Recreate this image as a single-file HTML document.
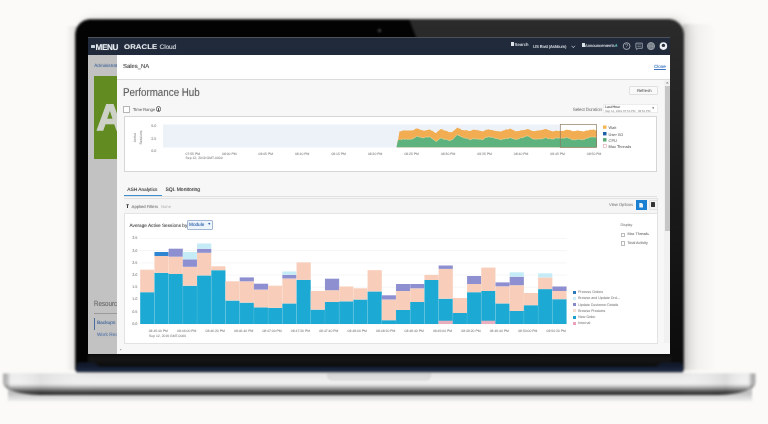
<!DOCTYPE html>
<html><head><meta charset="utf-8"><title>Performance Hub</title>
<style>
*{margin:0;padding:0;box-sizing:border-box}
html,body{width:768px;height:424px;overflow:hidden;background:#fbfaf8;font-family:"Liberation Sans",Arial,sans-serif}
.a{position:absolute}
.t{position:absolute;white-space:nowrap;line-height:1;text-rendering:geometricPrecision;text-shadow:0 0 1px color-mix(in srgb,currentColor 45%,transparent)}
</style></head><body>
<div class="a" style="left:0;top:0;width:768px;height:424px">

<div class="a" style="left:0;top:0;width:768px;height:424px;filter:blur(1px)">
<!-- base -->
<svg class="a" style="left:0;top:0" width="768" height="424"><defs>
<linearGradient id="bv" x1="0" y1="373" x2="0" y2="395" gradientUnits="userSpaceOnUse">
<stop offset="0" stop-color="#d8d8d8"/><stop offset=".05" stop-color="#ececec"/><stop offset=".49" stop-color="#f1f1f1"/><stop offset=".58" stop-color="#d2d2d2"/><stop offset=".7" stop-color="#9a9a9a"/><stop offset=".82" stop-color="#5c5c5c"/><stop offset=".96" stop-color="#262626"/><stop offset="1" stop-color="#303030"/></linearGradient>
<linearGradient id="bh" x1="3" y1="0" x2="756" y2="0" gradientUnits="userSpaceOnUse">
<stop offset="0" stop-color="#000" stop-opacity=".28"/><stop offset=".006" stop-color="#000" stop-opacity=".2"/><stop offset=".012" stop-color="#fff" stop-opacity="0"/><stop offset=".05" stop-color="#000" stop-opacity=".06"/><stop offset=".12" stop-color="#fff" stop-opacity="0"/><stop offset=".9" stop-color="#fff" stop-opacity="0"/><stop offset=".96" stop-color="#000" stop-opacity=".08"/><stop offset=".988" stop-color="#fff" stop-opacity="0"/><stop offset=".994" stop-color="#000" stop-opacity=".25"/><stop offset="1" stop-color="#000" stop-opacity=".3"/></linearGradient>
<linearGradient id="bs" x1="0" y1="394" x2="0" y2="402" gradientUnits="userSpaceOnUse"><stop offset="0" stop-color="#c2c2c2"/><stop offset=".35" stop-color="#d9d9d9"/><stop offset=".75" stop-color="#e6e6e6"/><stop offset="1" stop-color="#f4f4f2" stop-opacity="0"/></linearGradient>
</defs>
<path d="M8,388 C14,392 25,393.5 40,393.5 L718,393.5 C735,393.5 748,392 752,388 L752,402 L8,402 Z" fill="url(#bs)"/>
<path d="M3,373.5 L755.5,373.5 L755.5,382.5 C755.5,388.5 744,394.3 718,394.9 L40,394.9 C14,394.3 3,388.5 3,382.5 Z" fill="url(#bv)"/>
<path d="M3,373.5 L755.5,373.5 L755.5,382.5 C755.5,388.5 744,394.3 718,394.9 L40,394.9 C14,394.3 3,388.5 3,382.5 Z" fill="url(#bh)"/>
</svg>
<!-- notch -->
<div class="a" style="left:327px;top:373px;width:104px;height:7px;border-radius:0 0 6px 6px;background:linear-gradient(#dadada,#e6e6e6);box-shadow:inset 0 -0.6px 0.8px #bcbcbc"></div>

<!-- lid shadow -->
<div class="a" style="left:683px;top:24px;width:34px;height:346px;background:linear-gradient(90deg,rgba(0,0,0,.15),rgba(0,0,0,.07) 20%,rgba(0,0,0,.03) 50%,rgba(0,0,0,0));border-radius:0 10px 0 0"></div>
<div class="a" style="left:66px;top:26px;width:10px;height:344px;background:linear-gradient(270deg,rgba(0,0,0,.1),rgba(0,0,0,0))"></div>
<div class="a" style="left:75px;top:19px;width:609px;height:353px;border-radius:15px 15px 3px 3px;box-shadow:5px 0 12px rgba(0,0,0,.10), 1px -1px 4px rgba(0,0,0,.08)"></div>
<!-- lid -->
<div class="a" style="left:75px;top:19px;width:609px;height:353px;border-radius:15px 15px 3px 3px;background:#030303;border:1px solid #303030"></div>
<!-- glare -->
<svg class="a" style="left:0;top:0" width="768" height="424"><defs><linearGradient id="gl" x1="0" y1="0" x2="0" y2="1"><stop offset="0" stop-color="#fff" stop-opacity=".16"/><stop offset="1" stop-color="#fff" stop-opacity=".03"/></linearGradient><clipPath id="lc"><rect x="76" y="20" width="607" height="351" rx="14"/></clipPath></defs>
<polygon points="409,19 684,19 684,372 546,372" fill="url(#gl)" clip-path="url(#lc)"/></svg>
<!-- hinge band -->
<div class="a" style="left:88px;top:353.5px;width:583px;height:13px;background:linear-gradient(#0c0c0c,#161616 30%,#121212 70%,#070707)"></div>
<svg class="a" style="left:0;top:0" width="768" height="424"><defs><linearGradient id="nv" x1="0" y1="362" x2="0" y2="372.5" gradientUnits="userSpaceOnUse"><stop offset="0" stop-color="#101828"/><stop offset=".45" stop-color="#121b2d"/><stop offset=".7" stop-color="#1c2942"/><stop offset=".88" stop-color="#18243a"/><stop offset="1" stop-color="#0b1019"/></linearGradient></defs>
<path d="M76.5,372.3 L76.5,365 Q76.5,362.3 80,362.3 L90,362.3 Q95,362.3 99,366.6 L656,366.6 Q661,362.3 666,362.3 L679.5,362.3 Q683,362.3 683,365 L683,372.3 Z" fill="url(#nv)"/></svg>
<!-- camera -->
<div class="a" style="left:378px;top:29px;width:3px;height:3px;border-radius:50%;background:#555"></div>

</div>
<!-- ===== SCREEN ===== -->
<div class="a" style="left:88px;top:37px;width:582px;height:317px;background:#f4f4f4;overflow:hidden">
 <!-- header -->
 <div class="a" style="left:0;top:0;width:582px;height:18px;background:#202a3b;border-top:1px solid #4d525a"></div>
 <div class="a" style="left:3.3px;top:7.6px;width:3.6px;height:3.2px;background:#c9d3dd;border-radius:.5px"></div>
 <div class="t" style="left:7.6px;top:6.5px;font-size:8.2px;font-weight:bold;color:#e9edf2;letter-spacing:-.45px">MENU</div>
 <div class="t" style="left:36.4px;top:8.1px;font-size:6.8px;font-weight:bold;color:#e4e7ec;letter-spacing:.1px;transform:scaleX(1.14);transform-origin:0 0">ORACLE</div>
 <div class="t" style="left:71.6px;top:8.3px;font-size:6.6px;color:#d5d9df;letter-spacing:-.15px">Cloud</div>
 <div class="a" style="left:423.3px;top:4.6px;width:3px;height:4px;background:#dfe4ea;border-radius:.3px"></div>
 <div class="t" style="left:426.5px;top:6.2px;font-size:4.4px;color:#e3e7ed">Search</div>
 <div class="t" style="left:445px;top:7.6px;font-size:4.3px;color:#e3e7ed;letter-spacing:-.15px">US East (Ashburn)</div>
 <svg class="a" style="left:483px;top:8px" width="5" height="4" viewBox="0 0 5 4"><path d="M0.6,0.8 L2.3,2.7 L4,0.8" fill="none" stroke="#dfe4ea" stroke-width="0.7"/></svg>
 <div class="a" style="left:494.3px;top:5.6px;width:3px;height:4px;background:#dfe4ea;border-radius:.3px"></div>
 <div class="t" style="left:497px;top:7.2px;font-size:4.1px;color:#e3e7ed">Announcements</div>
 <div class="a" style="left:526.8px;top:6.4px;width:2.8px;height:3.2px;background:#5fb8b0;clip-path:polygon(50% 0,100% 100%,0 100%)"></div>
 <svg class="a" style="left:530px;top:2px" width="52" height="15" viewBox="530 2 52 15">
  <circle cx="538.6" cy="9.1" r="3.4" fill="none" stroke="#a9afb7" stroke-width="0.9"/>
  <path d="M537.6,8.1 a1.05,1.05 0 1 1 1.5,0.9 c-0.4,0.2 -0.5,0.4 -0.5,0.9" fill="none" stroke="#c3c8ce" stroke-width="0.6"/>
  <circle cx="538.6" cy="11" r="0.35" fill="#c3c8ce"/>
  <path d="M547.9,6.1 h6.4 v5.2 h-4.2 l-1.6,1.3 v-1.3 h-0.6 z" fill="none" stroke="#a9afb7" stroke-width="0.8"/>
  <path d="M549.2,7.8 h3.8 M549.2,9.5 h3.8" stroke="#a9afb7" stroke-width="0.5"/>
  <circle cx="563" cy="9.1" r="3.6" fill="#6f7680" stroke="#aeb3ba" stroke-width="0.7"/>
  <ellipse cx="563" cy="9.1" rx="1.4" ry="3.4" fill="none" stroke="#a3a9b0" stroke-width="0.5"/>
  <path d="M559.5,9.1 h7" stroke="#a3a9b0" stroke-width="0.5"/>
  <circle cx="575.4" cy="9.1" r="3.8" fill="#eceef1"/>
  <circle cx="575.4" cy="8.4" r="1.7" fill="#27313f"/>
  <path d="M572.6,11.9 a3,2.6 0 0 1 5.6,0 z" fill="#27313f" opacity=".0"/>
 </svg>
 <!-- left sidebar (background page) -->
 <div class="a" style="left:0;top:18px;width:29px;height:299px;background:#c2c2c2"></div>
 <div class="t" style="left:6.3px;top:26.6px;font-size:4.6px;color:#4a6b9e">Administration</div>
 <div class="a" style="left:6px;top:38.5px;width:23px;height:83.5px;background:#628c22"></div>
 <div class="t" style="left:8.6px;top:62.3px;font-size:37px;font-weight:bold;color:#cdd1c8;-webkit-text-stroke:1.3px #cdd1c8">A</div>
 <div class="t" style="left:6px;top:263.3px;font-size:7.6px;color:#6a6a6a;transform:scaleX(.82);transform-origin:0 0">Resources</div>
 <div class="a" style="left:6px;top:275.5px;width:23px;height:0.6px;background:#9a9a9a"></div>
 <div class="a" style="left:5.8px;top:280.7px;width:0.9px;height:12.2px;background:#4d6e9f"></div>
 <div class="t" style="left:8.9px;top:285.3px;font-size:4.8px;color:#3f649a">Backups</div>
 <div class="t" style="left:8.9px;top:297.2px;font-size:4.8px;color:#5a7aab">Work Requests</div>

 <!-- dialog panel -->
 <div class="a" style="left:29px;top:18px;width:553px;height:299px;background:#f7f7f7"></div>
 <div class="a" style="left:29px;top:18px;width:553px;height:24.6px;background:#fff;border-bottom:1px solid #dcdcdc"></div>
 <div class="t" style="left:35px;top:27.6px;font-size:5.9px;color:#444">Sales_NA</div>
 <div class="t" style="left:566px;top:28px;font-size:4.6px;color:#3a74c0;text-decoration:underline">Close</div>

 <!-- scrollbar -->
 <div class="a" style="left:576px;top:43px;width:6px;height:263px;background:#f1f1f1"></div>
 <div class="a" style="left:577px;top:49px;width:4.5px;height:145px;background:#c6c6c6"></div>
 <div class="a" style="left:577.8px;top:44.5px;width:3px;height:2px;background:#999;clip-path:polygon(50% 0,100% 100%,0 100%)"></div>

 <!-- title -->
 <div class="t" style="left:35px;top:50.5px;font-size:11.4px;color:#626262;transform:scaleX(.86);transform-origin:0 0">Performance Hub</div>
 <div class="a" style="left:541.2px;top:48.5px;width:28.7px;height:9.1px;background:#f9f9f9;border:0.7px solid #e0e0e0;border-radius:1px"></div>
 <div class="t" style="left:548.9px;top:52px;font-size:4.2px;color:#666">Refresh</div>
 <!-- time range -->
 <div class="a" style="left:35px;top:68.8px;width:7px;height:7px;border:0.7px solid #b5b5b5;background:#fff"></div>
 <div class="t" style="left:45px;top:70.6px;font-size:4.3px;color:#777;letter-spacing:-.12px">Time Range</div>
 <div class="a" style="left:67.7px;top:69.2px;width:5.6px;height:5.6px;border:0.7px solid #666;border-radius:50%"></div>
 <div class="a" style="left:70.1px;top:71.9px;width:0.8px;height:2.4px;background:#555"></div>
 <div class="a" style="left:70.1px;top:70.9px;width:0.8px;height:0.6px;background:#555"></div>
 <div class="t" style="left:484.8px;top:70.8px;font-size:4.6px;color:#8a8a8a;letter-spacing:-.15px">Select Duration</div>
 <div class="a" style="left:515px;top:67.3px;width:55px;height:9px;background:#fff;border:0.6px solid #ececec"></div>
 <div class="t" style="left:517px;top:68.6px;font-size:3.5px;color:#555">Last Hour</div>
 <div class="t" style="left:517px;top:72.6px;font-size:2.9px;color:#9a9a9a">Sep 12, 2019 07:52 PM - 08:52 PM</div>
 <div class="t" style="left:564.3px;top:70.4px;font-size:3.6px;color:#777">&#9662;</div>

 <!-- top chart box -->
 <div class="a" style="left:35.5px;top:78.5px;width:533.5px;height:56.3px;background:#fff;border:0.8px solid #d6d6d6"></div>
 <svg class="a" style="left:-88px;top:-37px" width="768" height="424" viewBox="0 0 768 424">
  <rect x="163" y="124.5" width="397" height="23" fill="#edf2f8"/>
  <polygon points="396.8,147.3 399.5,131.3 400.7,131.2 402.0,130.9 403.2,130.2 404.4,130.6 405.7,130.6 406.9,130.4 408.1,130.6 409.4,130.4 410.6,130.5 411.8,130.5 413.1,130.2 414.3,129.8 415.5,128.8 416.8,128.4 418.0,128.7 419.2,129.0 420.5,129.9 421.7,130.0 423.0,130.5 424.2,130.7 425.4,130.4 426.7,130.1 427.9,129.9 429.1,129.4 430.4,129.7 431.6,130.7 432.8,131.1 434.1,132.0 435.3,132.9 436.5,132.8 437.8,131.3 439.0,130.6 440.2,129.4 441.5,129.1 442.7,129.5 443.9,130.4 445.2,130.4 446.4,131.0 447.6,131.2 448.9,132.2 450.1,132.1 451.3,132.2 452.6,131.7 453.8,130.5 455.0,129.7 456.3,128.6 457.5,127.5 458.8,128.5 460.0,128.6 461.2,129.8 462.5,129.9 463.7,130.3 464.9,130.3 466.2,130.2 467.4,130.2 468.6,130.9 469.9,131.0 471.1,130.7 472.3,130.1 473.6,129.8 474.8,129.7 476.0,130.0 477.3,130.3 478.5,130.3 479.7,130.7 481.0,131.0 482.2,131.2 483.4,131.2 484.7,130.4 485.9,129.7 487.1,129.7 488.4,129.2 489.6,129.8 490.8,130.0 492.1,130.1 493.3,130.3 494.5,130.9 495.8,130.8 497.0,131.3 498.2,131.1 499.5,131.5 500.7,131.5 502.0,131.1 503.2,130.4 504.4,130.2 505.7,129.4 506.9,129.6 508.1,129.5 509.4,129.0 510.6,128.6 511.8,129.5 513.1,129.9 514.3,130.5 515.5,131.2 516.8,131.2 518.0,131.0 519.2,130.9 520.5,130.3 521.7,130.4 522.9,130.0 524.2,130.1 525.4,129.7 526.6,129.2 527.9,129.1 529.1,129.4 530.3,130.1 531.6,130.7 532.8,130.9 534.0,131.2 535.3,131.1 536.5,130.7 537.8,130.6 539.0,130.5 540.2,130.2 541.5,129.9 542.7,129.8 543.9,129.5 545.2,128.9 546.4,129.0 547.6,129.8 548.9,130.1 550.1,130.8 551.3,130.8 552.6,131.4 553.8,131.3 555.0,130.9 556.3,130.6 557.5,131.0 558.7,131.0 560.0,130.8 561.2,131.1 562.4,130.8 563.7,131.1 564.9,130.3 566.1,129.8 567.4,129.7 568.6,130.0 569.8,129.9 571.1,130.5 572.3,131.3 573.5,131.0 574.8,131.3 576.0,130.7 577.2,130.5 578.5,130.5 579.7,130.9 581.0,131.1 582.2,131.2 583.4,131.5 584.7,131.3 585.9,130.5 587.1,130.4 588.4,130.4 589.6,129.7 590.8,129.8 592.1,129.9 593.3,129.6 594.5,129.8 595.8,130.4 597.0,130.3 597,147.3" fill="#f2ad52"/><polygon points="396.5,147.3 398.0,140.3 400.7,139.7 402.0,139.6 403.2,138.7 404.4,139.4 405.7,139.2 406.9,139.1 408.1,139.6 409.4,139.1 410.6,139.5 411.8,139.0 413.1,138.5 414.3,137.9 415.5,137.2 416.8,136.2 418.0,136.6 419.2,136.8 420.5,137.4 421.7,137.5 423.0,137.9 424.2,137.7 425.4,137.3 426.7,137.0 427.9,137.2 429.1,136.9 430.4,137.1 431.6,138.4 432.8,139.0 434.1,139.9 435.3,141.0 436.5,141.5 437.8,140.2 439.0,139.5 440.2,138.0 441.5,138.3 442.7,138.6 443.9,139.5 445.2,139.1 446.4,139.7 447.6,139.7 448.9,140.6 450.1,140.4 451.3,139.9 452.6,139.5 453.8,138.2 455.0,136.9 456.3,135.6 457.5,134.4 458.8,135.9 460.0,135.5 461.2,137.0 462.5,137.1 463.7,138.0 464.9,138.0 466.2,138.3 467.4,138.3 468.6,139.0 469.9,139.7 471.1,139.5 472.3,138.8 473.6,138.9 474.8,138.6 476.0,139.1 477.3,139.1 478.5,139.2 479.7,139.2 481.0,139.3 482.2,139.8 483.4,139.3 484.7,138.2 485.9,137.2 487.1,137.4 488.4,136.7 489.6,137.1 490.8,137.3 492.1,137.3 493.3,137.4 494.5,138.2 495.8,138.4 497.0,138.8 498.2,138.7 499.5,139.4 500.7,139.7 502.0,139.5 503.2,138.9 504.4,139.0 505.7,138.4 506.9,138.5 508.1,138.6 509.4,137.9 510.6,137.7 511.8,138.3 513.1,138.7 514.3,138.9 515.5,139.5 516.8,139.3 518.0,139.1 519.2,138.7 520.5,137.6 521.7,137.9 522.9,137.4 524.2,136.9 525.4,136.6 526.6,136.0 527.9,136.1 529.1,136.4 530.3,137.4 531.6,138.3 532.8,138.9 534.0,139.1 535.3,139.2 536.5,139.3 537.8,138.9 539.0,139.0 540.2,138.9 541.5,139.1 542.7,138.6 543.9,138.5 545.2,137.5 546.4,137.8 547.6,138.7 548.9,138.4 550.1,138.7 551.3,138.9 552.6,139.0 553.8,139.1 555.0,138.3 556.3,137.8 557.5,138.1 558.7,138.3 560.0,137.7 561.2,138.3 562.4,137.9 563.7,138.4 564.9,137.7 566.1,137.6 567.4,137.5 568.6,138.3 569.8,138.2 571.1,139.2 572.3,139.7 573.5,139.6 574.8,140.0 576.0,139.6 577.2,139.4 578.5,139.1 579.7,139.5 581.0,139.6 582.2,139.7 583.4,139.6 584.7,139.4 585.9,138.2 587.1,138.3 588.4,137.9 589.6,137.2 590.8,137.1 592.1,137.1 593.3,137.0 594.5,136.9 595.8,137.4 597.0,137.8 597,147.3" fill="#5db27e"/><polyline points="400.7,139.7 402.0,139.6 403.2,138.7 404.4,139.4 405.7,139.2 406.9,139.1 408.1,139.6 409.4,139.1 410.6,139.5 411.8,139.0 413.1,138.5 414.3,137.9 415.5,137.2 416.8,136.2 418.0,136.6 419.2,136.8 420.5,137.4 421.7,137.5 423.0,137.9 424.2,137.7 425.4,137.3 426.7,137.0 427.9,137.2 429.1,136.9 430.4,137.1 431.6,138.4 432.8,139.0 434.1,139.9 435.3,141.0 436.5,141.5 437.8,140.2 439.0,139.5 440.2,138.0 441.5,138.3 442.7,138.6 443.9,139.5 445.2,139.1 446.4,139.7 447.6,139.7 448.9,140.6 450.1,140.4 451.3,139.9 452.6,139.5 453.8,138.2 455.0,136.9 456.3,135.6 457.5,134.4 458.8,135.9 460.0,135.5 461.2,137.0 462.5,137.1 463.7,138.0 464.9,138.0 466.2,138.3 467.4,138.3 468.6,139.0 469.9,139.7 471.1,139.5 472.3,138.8 473.6,138.9 474.8,138.6 476.0,139.1 477.3,139.1 478.5,139.2 479.7,139.2 481.0,139.3 482.2,139.8 483.4,139.3 484.7,138.2 485.9,137.2 487.1,137.4 488.4,136.7 489.6,137.1 490.8,137.3 492.1,137.3 493.3,137.4 494.5,138.2 495.8,138.4 497.0,138.8 498.2,138.7 499.5,139.4 500.7,139.7 502.0,139.5 503.2,138.9 504.4,139.0 505.7,138.4 506.9,138.5 508.1,138.6 509.4,137.9 510.6,137.7 511.8,138.3 513.1,138.7 514.3,138.9 515.5,139.5 516.8,139.3 518.0,139.1 519.2,138.7 520.5,137.6 521.7,137.9 522.9,137.4 524.2,136.9 525.4,136.6 526.6,136.0 527.9,136.1 529.1,136.4 530.3,137.4 531.6,138.3 532.8,138.9 534.0,139.1 535.3,139.2 536.5,139.3 537.8,138.9 539.0,139.0 540.2,138.9 541.5,139.1 542.7,138.6 543.9,138.5 545.2,137.5 546.4,137.8 547.6,138.7 548.9,138.4 550.1,138.7 551.3,138.9 552.6,139.0 553.8,139.1 555.0,138.3 556.3,137.8 557.5,138.1 558.7,138.3 560.0,137.7 561.2,138.3 562.4,137.9 563.7,138.4 564.9,137.7 566.1,137.6 567.4,137.5 568.6,138.3 569.8,138.2 571.1,139.2 572.3,139.7 573.5,139.6 574.8,140.0 576.0,139.6 577.2,139.4 578.5,139.1 579.7,139.5 581.0,139.6 582.2,139.7 583.4,139.6 584.7,139.4 585.9,138.2 587.1,138.3 588.4,137.9 589.6,137.2 590.8,137.1 592.1,137.1 593.3,137.0 594.5,136.9 595.8,137.4 597.0,137.8" fill="none" stroke="#f3e2b0" stroke-width="0.6" stroke-opacity=".85"/>
  <rect x="560.3" y="124.6" width="36.2" height="22.9" fill="none" stroke="#8c7b63" stroke-width="0.7"/>
  <rect x="603" y="125.5" width="3.5" height="3.3" fill="#f3b653"/>
  <rect x="603" y="132" width="3.5" height="3.4" fill="#1f5fa8"/>
  <rect x="603" y="138.1" width="3.5" height="3.4" fill="#5aa874"/>
  <rect x="603.3" y="144.3" width="3" height="3.3" fill="#fff" stroke="#d9a0a8" stroke-width="0.55"/>
 </svg>
 <div class="t" style="left:520.6px;top:89.3px;font-size:3.9px;color:#707070">Wait</div>
 <div class="t" style="left:520.6px;top:95.7px;font-size:3.9px;color:#707070">User I/O</div>
 <div class="t" style="left:520.6px;top:101.9px;font-size:3.9px;color:#707070">CPU</div>
 <div class="t" style="left:520.6px;top:108.2px;font-size:3.9px;color:#707070">Max Threads</div>
 <div class="t" style="left:63.2px;top:87.5px;font-size:3.7px;color:#888">5.0</div>
 <div class="t" style="left:63.2px;top:100.5px;font-size:3.7px;color:#888">2.5</div>
 <div class="t" style="left:63.2px;top:113.3px;font-size:3.7px;color:#888">0.0</div>
 <div class="t" style="left:39.7px;top:94.7px;width:20px;height:11px;text-align:center;font-size:3.5px;line-height:5.5px;color:#888;transform:rotate(-90deg);transform-origin:50% 50%">Active<br>Sessions</div>
 <div class="t" style="left:97.5px;top:116.0px;font-size:3.4px;color:#888">07:55 PM</div>
 <div class="t" style="left:134.0px;top:116.0px;font-size:3.4px;color:#888">08:00 PM</div>
 <div class="t" style="left:170.5px;top:116.0px;font-size:3.4px;color:#888">08:05 PM</div>
 <div class="t" style="left:206.9px;top:116.0px;font-size:3.4px;color:#888">08:10 PM</div>
 <div class="t" style="left:243.4px;top:116.0px;font-size:3.4px;color:#888">08:15 PM</div>
 <div class="t" style="left:279.9px;top:116.0px;font-size:3.4px;color:#888">08:20 PM</div>
 <div class="t" style="left:316.4px;top:116.0px;font-size:3.4px;color:#888">08:25 PM</div>
 <div class="t" style="left:352.9px;top:116.0px;font-size:3.4px;color:#888">08:30 PM</div>
 <div class="t" style="left:389.3px;top:116.0px;font-size:3.4px;color:#888">08:35 PM</div>
 <div class="t" style="left:425.8px;top:116.0px;font-size:3.4px;color:#888">08:40 PM</div>
 <div class="t" style="left:462.3px;top:116.0px;font-size:3.4px;color:#888">08:45 PM</div>
 <div class="t" style="left:498.8px;top:116.0px;font-size:3.4px;color:#888">08:50 PM</div>
 <div class="t" style="left:97.5px;top:120.4px;font-size:3.4px;color:#888">Sep 12, 2019 GMT-0000</div>

 <!-- tabs -->
 <div class="t" style="left:39.3px;top:151.6px;font-size:4.8px;color:#333">ASH Analytics</div>
 <div class="t" style="left:77.5px;top:151.3px;font-size:5.0px;color:#333">SQL Monitoring</div>
 <div class="a" style="left:35.5px;top:158.8px;width:533px;height:0.6px;background:#e0e0e0"></div>
 <div class="a" style="left:35.5px;top:157.6px;width:38px;height:1.3px;background:#3d8fd1"></div>

 <!-- lower panel -->
 <div class="a" style="left:35.5px;top:161px;width:534px;height:145.5px;background:#fff;border:0.8px solid #e2e2e2"></div>
 <div class="a" style="left:36.3px;top:161.8px;width:532.4px;height:15.5px;background:#f5f5f5;border-bottom:0.6px solid #e4e4e4"></div>
 <div class="a" style="left:38.2px;top:167.3px;width:2.8px;height:2px;background:#333;clip-path:polygon(0 0,100% 0,50% 100%)"></div>
 <div class="a" style="left:39.2px;top:168.8px;width:0.8px;height:2.4px;background:#333"></div>
 <div class="t" style="left:43.6px;top:168px;font-size:4.2px;color:#7a7a7a">Applied Filters</div>
 <div class="t" style="left:73px;top:168px;font-size:4.2px;color:#bdbdbd">None</div>
 <div class="t" style="left:521px;top:166.3px;font-size:4.1px;color:#888">View Options</div>
 <div class="a" style="left:548px;top:162.7px;width:11px;height:10.6px;background:#1b7fd2"></div>
 <div class="a" style="left:551.3px;top:165.6px;width:4px;height:5px;background:#e8f3fc;clip-path:polygon(0 0,55% 0,100% 45%,100% 100%,0 100%)"></div>
 <div class="a" style="left:560.5px;top:162.7px;width:9.6px;height:10.6px;background:#f3f3f3;border:0.6px solid #e2e2e2;border-radius:1px"></div>
 <div class="a" style="left:562.5px;top:165.2px;width:4.2px;height:4.8px;background:#333;border-radius:.6px"></div>

 <div class="t" style="left:41.5px;top:186.8px;font-size:4.7px;color:#444">Average Active Sessions by</div>
 <div class="a" style="left:99px;top:182.6px;width:25.7px;height:10.6px;background:#eef4fc;border:0.8px solid #a3b6d3;border-radius:1px"></div>
 <div class="t" style="left:101px;top:185.8px;font-size:4.7px;color:#2d62a8">Module</div>
 <div class="t" style="left:119.5px;top:186.4px;font-size:3.5px;color:#2d62a8">&#9660;</div>
 <div class="t" style="left:532.5px;top:187px;font-size:3.6px;color:#888">Display</div>
 <div class="a" style="left:532.5px;top:195.5px;width:4.5px;height:4.5px;border:0.6px solid #bbb"></div>
 <div class="a" style="left:532.5px;top:204px;width:4.5px;height:4.5px;border:0.6px solid #bbb"></div>
 <div class="t" style="left:539.5px;top:196px;font-size:3.7px;color:#777">Max Threads</div>
 <div class="t" style="left:539.5px;top:204.5px;font-size:3.7px;color:#777">Total Activity</div>

 <svg class="a" style="left:-88px;top:-37px" width="768" height="424" viewBox="0 0 768 424">
 <line x1="140" y1="324.0" x2="567" y2="324.0" stroke="#ececec" stroke-width="0.5"/>
<line x1="140" y1="311.8" x2="567" y2="311.8" stroke="#ececec" stroke-width="0.5"/>
<line x1="140" y1="299.5" x2="567" y2="299.5" stroke="#ececec" stroke-width="0.5"/>
<line x1="140" y1="287.3" x2="567" y2="287.3" stroke="#ececec" stroke-width="0.5"/>
<line x1="140" y1="275.1" x2="567" y2="275.1" stroke="#ececec" stroke-width="0.5"/>
<line x1="140" y1="262.9" x2="567" y2="262.9" stroke="#ececec" stroke-width="0.5"/>
<line x1="140" y1="250.6" x2="567" y2="250.6" stroke="#ececec" stroke-width="0.5"/>
<line x1="140" y1="238.4" x2="567" y2="238.4" stroke="#ececec" stroke-width="0.5"/>
<rect x="140.20" y="292.2" width="14.26" height="31.8" fill="#1ca9d3"/>
<rect x="140.20" y="269.7" width="14.26" height="22.5" fill="#f8cdb9"/>
<rect x="154.41" y="272.8" width="14.26" height="51.2" fill="#1ca9d3"/>
<rect x="154.41" y="256.0" width="14.26" height="16.8" fill="#f8cdb9"/>
<rect x="154.41" y="252.0" width="14.26" height="4.0" fill="#2e86d3"/>
<rect x="168.62" y="274.0" width="14.26" height="50.0" fill="#1ca9d3"/>
<rect x="168.62" y="256.7" width="14.26" height="17.3" fill="#f8cdb9"/>
<rect x="168.62" y="248.7" width="14.26" height="8.0" fill="#8d8fd0"/>
<rect x="182.83" y="285.7" width="14.26" height="38.3" fill="#1ca9d3"/>
<rect x="182.83" y="266.8" width="14.26" height="18.9" fill="#f8cdb9"/>
<rect x="182.83" y="259.3" width="14.26" height="7.5" fill="#8d8fd0"/>
<rect x="182.83" y="252.0" width="14.26" height="7.3" fill="#c5ecf6"/>
<rect x="197.04" y="275.4" width="14.26" height="48.6" fill="#1ca9d3"/>
<rect x="197.04" y="252.8" width="14.26" height="22.6" fill="#f8cdb9"/>
<rect x="197.04" y="248.7" width="14.26" height="4.1" fill="#8d8fd0"/>
<rect x="197.04" y="243.5" width="14.26" height="5.2" fill="#c5ecf6"/>
<rect x="211.25" y="270.2" width="14.26" height="53.8" fill="#1ca9d3"/>
<rect x="211.25" y="266.3" width="14.26" height="3.9" fill="#f8cdb9"/>
<rect x="225.46" y="300.5" width="14.26" height="23.5" fill="#1ca9d3"/>
<rect x="225.46" y="281.3" width="14.26" height="19.2" fill="#f8cdb9"/>
<rect x="239.67" y="302.6" width="14.26" height="21.4" fill="#1ca9d3"/>
<rect x="239.67" y="281.3" width="14.26" height="21.3" fill="#f8cdb9"/>
<rect x="239.67" y="277.4" width="14.26" height="3.9" fill="#8d8fd0"/>
<rect x="253.88" y="307.3" width="14.26" height="16.7" fill="#1ca9d3"/>
<rect x="253.88" y="289.6" width="14.26" height="17.7" fill="#f8cdb9"/>
<rect x="253.88" y="283.7" width="14.26" height="5.9" fill="#8d8fd0"/>
<rect x="268.09" y="307.8" width="14.26" height="16.2" fill="#1ca9d3"/>
<rect x="268.09" y="285.7" width="14.26" height="22.1" fill="#f8cdb9"/>
<rect x="282.30" y="303.4" width="14.26" height="20.6" fill="#1ca9d3"/>
<rect x="282.30" y="278.5" width="14.26" height="24.9" fill="#f8cdb9"/>
<rect x="282.30" y="274.9" width="14.26" height="3.6" fill="#8d8fd0"/>
<rect x="282.30" y="271.5" width="14.26" height="3.4" fill="#c5ecf6"/>
<rect x="296.51" y="279.8" width="14.26" height="44.2" fill="#1ca9d3"/>
<rect x="296.51" y="262.4" width="14.26" height="17.4" fill="#f8cdb9"/>
<rect x="310.72" y="309.6" width="14.26" height="14.4" fill="#1ca9d3"/>
<rect x="310.72" y="291.0" width="14.26" height="18.6" fill="#f8cdb9"/>
<rect x="324.93" y="302.0" width="14.26" height="22.0" fill="#1ca9d3"/>
<rect x="324.93" y="290.2" width="14.26" height="11.8" fill="#f8cdb9"/>
<rect x="324.93" y="278.7" width="14.26" height="11.5" fill="#8d8fd0"/>
<rect x="339.14" y="301.3" width="14.26" height="22.7" fill="#1ca9d3"/>
<rect x="339.14" y="286.5" width="14.26" height="14.8" fill="#f8cdb9"/>
<rect x="353.35" y="299.5" width="14.26" height="24.5" fill="#1ca9d3"/>
<rect x="353.35" y="288.3" width="14.26" height="11.2" fill="#f8cdb9"/>
<rect x="367.56" y="291.4" width="14.26" height="32.6" fill="#1ca9d3"/>
<rect x="367.56" y="270.2" width="14.26" height="21.2" fill="#f8cdb9"/>
<rect x="381.77" y="320.2" width="14.26" height="3.8" fill="#1ca9d3"/>
<rect x="381.77" y="299.5" width="14.26" height="20.7" fill="#f8cdb9"/>
<rect x="381.77" y="295.3" width="14.26" height="4.2" fill="#8d8fd0"/>
<rect x="395.98" y="309.9" width="14.26" height="14.1" fill="#1ca9d3"/>
<rect x="395.98" y="291.0" width="14.26" height="18.9" fill="#f8cdb9"/>
<rect x="395.98" y="284.0" width="14.26" height="7.0" fill="#8d8fd0"/>
<rect x="410.19" y="302.0" width="14.26" height="22.0" fill="#1ca9d3"/>
<rect x="410.19" y="288.3" width="14.26" height="13.7" fill="#f8cdb9"/>
<rect x="410.19" y="284.0" width="14.26" height="4.3" fill="#8d8fd0"/>
<rect x="424.40" y="280.0" width="14.26" height="44.0" fill="#1ca9d3"/>
<rect x="424.40" y="274.9" width="14.26" height="5.1" fill="#f8cdb9"/>
<rect x="438.61" y="320.7" width="14.21" height="3.3" fill="#e8b0bf"/>
<rect x="438.61" y="298.7" width="14.26" height="25.3" fill="#1ca9d3"/>
<rect x="438.61" y="268.9" width="14.26" height="29.8" fill="#f8cdb9"/>
<rect x="438.61" y="265.5" width="14.26" height="3.4" fill="#8d8fd0"/>
<rect x="438.61" y="320.7" width="14.21" height="3.3" fill="#e8b0bf"/>
<rect x="452.82" y="313.0" width="14.26" height="11.0" fill="#1ca9d3"/>
<rect x="452.82" y="298.0" width="14.26" height="15.0" fill="#f8cdb9"/>
<rect x="467.03" y="292.2" width="14.26" height="31.8" fill="#1ca9d3"/>
<rect x="467.03" y="284.0" width="14.26" height="8.2" fill="#f8cdb9"/>
<rect x="467.03" y="276.0" width="14.26" height="8.0" fill="#8d8fd0"/>
<rect x="481.24" y="320.7" width="14.21" height="3.3" fill="#e8b0bf"/>
<rect x="481.24" y="291.0" width="14.26" height="33.0" fill="#1ca9d3"/>
<rect x="481.24" y="267.6" width="14.26" height="23.4" fill="#f8cdb9"/>
<rect x="481.24" y="320.7" width="14.21" height="3.3" fill="#e8b0bf"/>
<rect x="495.45" y="303.4" width="14.26" height="20.6" fill="#1ca9d3"/>
<rect x="495.45" y="286.3" width="14.26" height="17.1" fill="#f8cdb9"/>
<rect x="495.45" y="282.4" width="14.26" height="3.9" fill="#8d8fd0"/>
<rect x="509.66" y="311.0" width="14.26" height="13.0" fill="#1ca9d3"/>
<rect x="509.66" y="285.2" width="14.26" height="25.8" fill="#f8cdb9"/>
<rect x="509.66" y="276.7" width="14.26" height="8.5" fill="#8d8fd0"/>
<rect x="509.66" y="272.3" width="14.26" height="4.4" fill="#c5ecf6"/>
<rect x="523.87" y="305.2" width="14.26" height="18.8" fill="#1ca9d3"/>
<rect x="523.87" y="293.0" width="14.26" height="12.2" fill="#f8cdb9"/>
<rect x="538.08" y="289.1" width="14.26" height="34.9" fill="#1ca9d3"/>
<rect x="538.08" y="277.4" width="14.26" height="11.7" fill="#f8cdb9"/>
<rect x="538.08" y="273.3" width="14.26" height="4.1" fill="#c5ecf6"/>
<rect x="552.29" y="299.2" width="14.26" height="24.8" fill="#1ca9d3"/>
<rect x="552.29" y="291.0" width="14.26" height="8.2" fill="#f8cdb9"/>
<rect x="552.29" y="286.5" width="14.26" height="4.5" fill="#8d8fd0"/>
<line x1="154.41" y1="240" x2="154.41" y2="324" stroke="#fff" stroke-opacity="0.25" stroke-width="0.4"/>
<line x1="168.62" y1="240" x2="168.62" y2="324" stroke="#fff" stroke-opacity="0.25" stroke-width="0.4"/>
<line x1="182.83" y1="240" x2="182.83" y2="324" stroke="#fff" stroke-opacity="0.25" stroke-width="0.4"/>
<line x1="197.04" y1="240" x2="197.04" y2="324" stroke="#fff" stroke-opacity="0.25" stroke-width="0.4"/>
<line x1="211.25" y1="240" x2="211.25" y2="324" stroke="#fff" stroke-opacity="0.25" stroke-width="0.4"/>
<line x1="225.46" y1="240" x2="225.46" y2="324" stroke="#fff" stroke-opacity="0.25" stroke-width="0.4"/>
<line x1="239.67" y1="240" x2="239.67" y2="324" stroke="#fff" stroke-opacity="0.25" stroke-width="0.4"/>
<line x1="253.88" y1="240" x2="253.88" y2="324" stroke="#fff" stroke-opacity="0.25" stroke-width="0.4"/>
<line x1="268.09" y1="240" x2="268.09" y2="324" stroke="#fff" stroke-opacity="0.25" stroke-width="0.4"/>
<line x1="282.30" y1="240" x2="282.30" y2="324" stroke="#fff" stroke-opacity="0.25" stroke-width="0.4"/>
<line x1="296.51" y1="240" x2="296.51" y2="324" stroke="#fff" stroke-opacity="0.25" stroke-width="0.4"/>
<line x1="310.72" y1="240" x2="310.72" y2="324" stroke="#fff" stroke-opacity="0.25" stroke-width="0.4"/>
<line x1="324.93" y1="240" x2="324.93" y2="324" stroke="#fff" stroke-opacity="0.25" stroke-width="0.4"/>
<line x1="339.14" y1="240" x2="339.14" y2="324" stroke="#fff" stroke-opacity="0.25" stroke-width="0.4"/>
<line x1="353.35" y1="240" x2="353.35" y2="324" stroke="#fff" stroke-opacity="0.25" stroke-width="0.4"/>
<line x1="367.56" y1="240" x2="367.56" y2="324" stroke="#fff" stroke-opacity="0.25" stroke-width="0.4"/>
<line x1="381.77" y1="240" x2="381.77" y2="324" stroke="#fff" stroke-opacity="0.25" stroke-width="0.4"/>
<line x1="395.98" y1="240" x2="395.98" y2="324" stroke="#fff" stroke-opacity="0.25" stroke-width="0.4"/>
<line x1="410.19" y1="240" x2="410.19" y2="324" stroke="#fff" stroke-opacity="0.25" stroke-width="0.4"/>
<line x1="424.40" y1="240" x2="424.40" y2="324" stroke="#fff" stroke-opacity="0.25" stroke-width="0.4"/>
<line x1="438.61" y1="240" x2="438.61" y2="324" stroke="#fff" stroke-opacity="0.25" stroke-width="0.4"/>
<line x1="452.82" y1="240" x2="452.82" y2="324" stroke="#fff" stroke-opacity="0.25" stroke-width="0.4"/>
<line x1="467.03" y1="240" x2="467.03" y2="324" stroke="#fff" stroke-opacity="0.25" stroke-width="0.4"/>
<line x1="481.24" y1="240" x2="481.24" y2="324" stroke="#fff" stroke-opacity="0.25" stroke-width="0.4"/>
<line x1="495.45" y1="240" x2="495.45" y2="324" stroke="#fff" stroke-opacity="0.25" stroke-width="0.4"/>
<line x1="509.66" y1="240" x2="509.66" y2="324" stroke="#fff" stroke-opacity="0.25" stroke-width="0.4"/>
<line x1="523.87" y1="240" x2="523.87" y2="324" stroke="#fff" stroke-opacity="0.25" stroke-width="0.4"/>
<line x1="538.08" y1="240" x2="538.08" y2="324" stroke="#fff" stroke-opacity="0.25" stroke-width="0.4"/>
<line x1="552.29" y1="240" x2="552.29" y2="324" stroke="#fff" stroke-opacity="0.25" stroke-width="0.4"/>
 </svg>
 <div class="t" style="left:44.2px;top:285.9px;font-size:3.8px;color:#8a8a8a">0.0</div>
 <div class="t" style="left:44.2px;top:273.7px;font-size:3.8px;color:#8a8a8a">0.5</div>
 <div class="t" style="left:44.2px;top:261.4px;font-size:3.8px;color:#8a8a8a">1.0</div>
 <div class="t" style="left:44.2px;top:249.2px;font-size:3.8px;color:#8a8a8a">1.5</div>
 <div class="t" style="left:44.2px;top:237.0px;font-size:3.8px;color:#8a8a8a">2.0</div>
 <div class="t" style="left:44.2px;top:224.8px;font-size:3.8px;color:#8a8a8a">2.5</div>
 <div class="t" style="left:44.2px;top:212.5px;font-size:3.8px;color:#8a8a8a">3.0</div>
 <div class="t" style="left:44.2px;top:200.3px;font-size:3.8px;color:#8a8a8a">3.5</div>
 <div class="t" style="left:60.7px;top:293.0px;font-size:3.4px;color:#888">08:45:40 PM</div>
 <div class="t" style="left:89.1px;top:293.0px;font-size:3.4px;color:#888">08:46:00 PM</div>
 <div class="t" style="left:117.5px;top:293.0px;font-size:3.4px;color:#888">08:46:20 PM</div>
 <div class="t" style="left:146.0px;top:293.0px;font-size:3.4px;color:#888">08:46:40 PM</div>
 <div class="t" style="left:174.4px;top:293.0px;font-size:3.4px;color:#888">08:47:00 PM</div>
 <div class="t" style="left:202.8px;top:293.0px;font-size:3.4px;color:#888">08:47:20 PM</div>
 <div class="t" style="left:231.2px;top:293.0px;font-size:3.4px;color:#888">08:47:40 PM</div>
 <div class="t" style="left:259.6px;top:293.0px;font-size:3.4px;color:#888">08:48:00 PM</div>
 <div class="t" style="left:288.1px;top:293.0px;font-size:3.4px;color:#888">08:48:20 PM</div>
 <div class="t" style="left:316.5px;top:293.0px;font-size:3.4px;color:#888">08:48:40 PM</div>
 <div class="t" style="left:344.9px;top:293.0px;font-size:3.4px;color:#888">08:49:00 PM</div>
 <div class="t" style="left:373.3px;top:293.0px;font-size:3.4px;color:#888">08:49:20 PM</div>
 <div class="t" style="left:401.7px;top:293.0px;font-size:3.4px;color:#888">08:49:40 PM</div>
 <div class="t" style="left:430.2px;top:293.0px;font-size:3.4px;color:#888">08:50:00 PM</div>
 <div class="t" style="left:458.6px;top:293.0px;font-size:3.4px;color:#888">08:50:20 PM</div>
 <div class="t" style="left:61px;top:297.6px;font-size:3.4px;color:#888">Sep 12, 2019 GMT-0000</div>
 <div class="a" style="left:484.5px;top:253.7px;width:3px;height:3px;background:#2a78b8"></div>
 <div class="t" style="left:490.2px;top:254.2px;font-size:3.6px;color:#8a8a8a">Process Orders</div>
 <div class="a" style="left:484.5px;top:259.9px;width:3px;height:3px;background:#cfeef6"></div>
 <div class="t" style="left:490.2px;top:260.4px;font-size:3.6px;color:#8a8a8a">Browse and Update Ord...</div>
 <div class="a" style="left:484.5px;top:266.1px;width:3px;height:3px;background:#8789c6"></div>
 <div class="t" style="left:490.2px;top:266.6px;font-size:3.6px;color:#8a8a8a">Update Customer Details</div>
 <div class="a" style="left:484.5px;top:272.3px;width:3px;height:3px;background:#f6dccf"></div>
 <div class="t" style="left:490.2px;top:272.8px;font-size:3.6px;color:#8a8a8a">Browse Products</div>
 <div class="a" style="left:484.5px;top:278.5px;width:3px;height:3px;background:#1aa1c9"></div>
 <div class="t" style="left:490.2px;top:279.0px;font-size:3.6px;color:#8a8a8a">New Order</div>
 <div class="a" style="left:484.5px;top:284.7px;width:3px;height:3px;background:#e9a2b7"></div>
 <div class="t" style="left:490.2px;top:285.2px;font-size:3.6px;color:#8a8a8a">Internal</div>
 <div class="t" style="left:32px;top:311px;font-size:4px;color:#888">&#8226;</div>
</div>

</div>
</body></html>
